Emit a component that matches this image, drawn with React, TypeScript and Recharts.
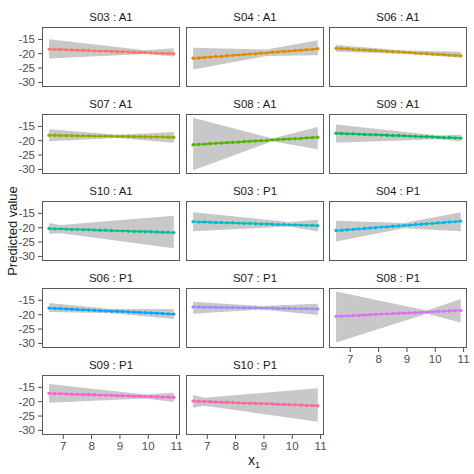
import { ComposedChart, Line, Area, XAxis, YAxis } from 'recharts'

// ─── data ───────────────────────────────────────────────────────
const X_VALUES = [6.5, 6.7, 6.9, 7.1, 7.3, 7.5, 7.7, 7.9, 8.1, 8.3, 8.5, 8.7, 8.9, 9.1, 9.3, 9.5, 9.7, 9.9, 10.1, 10.3, 10.5, 10.7, 10.9]

const PANEL_LABELS = [
  'S03 : A1', 'S04 : A1', 'S06 : A1',
  'S07 : A1', 'S08 : A1', 'S09 : A1',
  'S10 : A1', 'S03 : P1', 'S04 : P1',
  'S06 : P1', 'S07 : P1', 'S08 : P1',
  'S09 : P1', 'S10 : P1',
]

const COLORS = [
  '#F8766D', '#E38900', '#C49A00', '#99A800', '#53B400', '#00BC56', '#00C094',
  '#00BFC4', '#00B6EB', '#06A4FF', '#A58AFF', '#DF70F8', '#FB61D7', '#FF66A8',
]

const FIT_S03_A1 = [-18.4, -18.5, -18.5, -18.6, -18.7, -18.8, -18.8, -18.9, -19.0, -19.1, -19.1, -19.2, -19.3, -19.3, -19.4, -19.5, -19.6, -19.6, -19.7, -19.8, -19.9, -19.9, -20.0]
const FIT_S04_A1 = [-21.6, -21.5, -21.3, -21.2, -21.0, -20.9, -20.7, -20.6, -20.4, -20.3, -20.1, -20.0, -19.8, -19.7, -19.5, -19.4, -19.2, -19.1, -18.9, -18.8, -18.6, -18.5, -18.3]
const FIT_S06_A1 = [-18.1, -18.2, -18.3, -18.5, -18.6, -18.7, -18.8, -18.9, -19.0, -19.2, -19.3, -19.4, -19.5, -19.6, -19.8, -19.9, -20.0, -20.1, -20.2, -20.3, -20.5, -20.6, -20.7]
const FIT_S07_A1 = [-18.1, -18.1, -18.2, -18.2, -18.2, -18.3, -18.3, -18.3, -18.4, -18.4, -18.4, -18.4, -18.5, -18.5, -18.5, -18.6, -18.6, -18.6, -18.7, -18.7, -18.7, -18.8, -18.8]
const FIT_S08_A1 = [-21.4, -21.3, -21.2, -21.0, -20.9, -20.8, -20.7, -20.6, -20.5, -20.3, -20.2, -20.1, -20.0, -19.9, -19.7, -19.6, -19.5, -19.4, -19.3, -19.2, -19.0, -18.9, -18.8]
const FIT_S09_A1 = [-17.4, -17.5, -17.6, -17.6, -17.7, -17.8, -17.9, -17.9, -18.0, -18.1, -18.2, -18.2, -18.3, -18.4, -18.5, -18.6, -18.6, -18.7, -18.8, -18.9, -18.9, -19.0, -19.1]
const FIT_S10_A1 = [-20.3, -20.4, -20.4, -20.5, -20.6, -20.6, -20.7, -20.7, -20.8, -20.9, -20.9, -21.0, -21.1, -21.1, -21.2, -21.3, -21.3, -21.4, -21.4, -21.5, -21.6, -21.6, -21.7]
const FIT_S03_P1 = [-17.9, -18.0, -18.0, -18.1, -18.2, -18.2, -18.3, -18.3, -18.4, -18.5, -18.5, -18.6, -18.7, -18.7, -18.8, -18.9, -18.9, -19.0, -19.0, -19.1, -19.2, -19.2, -19.3]
const FIT_S04_P1 = [-21.0, -20.9, -20.7, -20.6, -20.4, -20.3, -20.1, -20.0, -19.8, -19.7, -19.5, -19.4, -19.2, -19.1, -18.9, -18.8, -18.6, -18.5, -18.3, -18.2, -18.0, -17.9, -17.7]
const FIT_S06_P1 = [-17.7, -17.8, -17.9, -18.0, -18.1, -18.2, -18.3, -18.4, -18.5, -18.6, -18.7, -18.8, -18.8, -18.9, -19.0, -19.1, -19.2, -19.3, -19.4, -19.5, -19.6, -19.7, -19.8]
const FIT_S07_P1 = [-17.3, -17.3, -17.4, -17.4, -17.4, -17.5, -17.5, -17.5, -17.6, -17.6, -17.6, -17.6, -17.7, -17.7, -17.7, -17.8, -17.8, -17.8, -17.9, -17.9, -17.9, -18.0, -18.0]
const FIT_S08_P1 = [-20.6, -20.5, -20.4, -20.3, -20.2, -20.1, -20.0, -19.9, -19.8, -19.7, -19.6, -19.5, -19.5, -19.4, -19.3, -19.2, -19.1, -19.0, -18.9, -18.8, -18.7, -18.6, -18.5]
const FIT_S09_P1 = [-17.1, -17.2, -17.2, -17.3, -17.4, -17.4, -17.5, -17.5, -17.6, -17.7, -17.7, -17.8, -17.9, -17.9, -18.0, -18.1, -18.1, -18.2, -18.2, -18.3, -18.4, -18.4, -18.5]
const FIT_S10_P1 = [-19.8, -19.9, -19.9, -20.0, -20.1, -20.2, -20.2, -20.3, -20.4, -20.5, -20.5, -20.6, -20.7, -20.7, -20.8, -20.9, -21.0, -21.0, -21.1, -21.2, -21.3, -21.3, -21.4]

// confidence band: [x, lower, upper] at the ends and at the narrowest point
const BAND_S03_A1 = [[6.5, -21.7, -15.0], [9.9, -20.1, -18.8], [10.9, -21.0, -18.1]]
const BAND_S04_A1 = [[6.5, -25.5, -17.9], [9.1, -20.8, -18.5], [10.9, -20.5, -15.3]]
const BAND_S06_A1 = [[6.5, -19.3, -17.0], [8.9, -20.0, -18.9], [10.9, -21.4, -19.3]]
const BAND_S07_A1 = [[6.5, -20.2, -16.0], [8.9, -19.1, -17.9], [10.9, -20.7, -17.0]]
const BAND_S08_A1 = [[6.5, -30.3, -12.0], [9.3, -20.2, -19.2], [10.9, -23.0, -15.2]]
const BAND_S09_A1 = [[6.5, -20.7, -14.4], [10.1, -19.5, -18.2], [10.9, -20.2, -17.9]]
const BAND_S10_A1 = [[6.5, -22.2, -18.4], [6.9, -21.9, -19.1], [10.9, -27.2, -15.8]]
const BAND_S03_P1 = [[6.5, -21.2, -14.65], [9.9, -19.6, -18.0], [10.9, -21.3, -17.2]]
const BAND_S04_P1 = [[6.5, -24.8, -17.6], [8.9, -20.2, -18.4], [10.9, -21.2, -14.65]]
const BAND_S06_P1 = [[6.5, -19.1, -15.9], [8.7, -19.5, -18.0], [10.9, -21.5, -18.0]]
const BAND_S07_P1 = [[6.5, -19.65, -15.5], [8.9, -18.2, -17.0], [10.9, -20.1, -16.2]]
const BAND_S08_P1 = [[6.5, -29.65, -11.9], [9.7, -19.7, -18.5], [10.9, -22.7, -14.5]]
const BAND_S09_P1 = [[6.5, -20.35, -13.8], [9.9, -18.9, -17.5], [10.9, -20.1, -16.9]]
const BAND_S10_P1 = [[6.5, -22.1, -17.7], [6.9, -21.4, -18.6], [10.9, -27.0, -15.35]]

const FITS = [
  FIT_S03_A1, FIT_S04_A1, FIT_S06_A1, FIT_S07_A1, FIT_S08_A1, FIT_S09_A1, FIT_S10_A1,
  FIT_S03_P1, FIT_S04_P1, FIT_S06_P1, FIT_S07_P1, FIT_S08_P1, FIT_S09_P1, FIT_S10_P1,
]
const BANDS = [
  BAND_S03_A1, BAND_S04_A1, BAND_S06_A1, BAND_S07_A1, BAND_S08_A1, BAND_S09_A1, BAND_S10_A1,
  BAND_S03_P1, BAND_S04_P1, BAND_S06_P1, BAND_S07_P1, BAND_S08_P1, BAND_S09_P1, BAND_S10_P1,
]

const Y_TICKS = [-30, -25, -20, -15]
const X_TICKS = [7, 8, 9, 10, 11]

// ─── layout ─────────────────────────────────────────────────────
const COL_LEFT = [42, 186, 329]
const ROW_TOP = [27, 114, 201, 288, 375]
const PANEL_W = 138
const PANEL_H = 60
const Y_AXIS_W = 42
const X_AXIS_H = 22
const RIGHT_PAD = 7
const FONT = '"Liberation Sans", Arial, sans-serif'
const AXIS_GREY = '#4d4d4d'

function buildRows(fit: number[], band: number[][]) {
  return X_VALUES.map((x, i) => {
    const b = band.find((p) => p[0] === x)
    return { x, y: fit[i], lo: b ? b[1] : null, hi: b ? b[2] : null }
  })
}

function Panel({ index }: { index: number }) {
  const col = index % 3
  const row = Math.floor(index / 3)
  const showY = col === 0
  const showX = row === 4 || (row === 3 && col === 2)
  const rows = buildRows(FITS[index], BANDS[index])
  const color = COLORS[index]
  const left = COL_LEFT[col]
  const top = ROW_TOP[row]

  return (
    <>
      <div
        style={{
          position: 'absolute', left, top: top - 17, width: PANEL_W,
          textAlign: 'center', fontSize: 11.5, color: '#1a1a1a', lineHeight: '14px',
        }}
      >
        {PANEL_LABELS[index]}
      </div>
      <div style={{ position: 'absolute', left: left - Y_AXIS_W, top }}>
        <ComposedChart
          width={Y_AXIS_W + PANEL_W + RIGHT_PAD}
          height={PANEL_H + X_AXIS_H}
          data={rows}
          margin={{ top: 0, right: RIGHT_PAD, bottom: 0, left: 0 }}
        >
          <XAxis
            dataKey="x"
            type="number"
            domain={[6.25, 11.12]}
            allowDataOverflow
            ticks={X_TICKS}
            interval={0}
            height={X_AXIS_H}
            axisLine={false}
            tickLine={showX ? { stroke: AXIS_GREY } : false}
            tick={showX ? { fontSize: 11.5, fill: AXIS_GREY, fontFamily: FONT } : false}
            tickSize={4}
            tickMargin={3}
          />
          <YAxis
            type="number"
            domain={[-31.6, -10.7]}
            allowDataOverflow
            ticks={Y_TICKS}
            interval={0}
            width={Y_AXIS_W}
            axisLine={false}
            tickLine={showY ? { stroke: AXIS_GREY } : false}
            tick={showY ? { fontSize: 11.5, fill: AXIS_GREY, fontFamily: FONT } : false}
            tickSize={4}
            tickMargin={3}
          />
          <Area
            dataKey={(d: any) => [d.lo, d.hi]}
            type="linear"
            connectNulls
            stroke="none"
            fill="#c8c8c8"
            fillOpacity={1}
            isAnimationActive={false}
            dot={false}
            activeDot={false}
          />
          <Line
            dataKey="y"
            type="linear"
            stroke={color}
            strokeWidth={1.8}
            dot={{ r: 1.7, fill: color, stroke: color, strokeWidth: 0 }}
            activeDot={false}
            isAnimationActive={false}
          />
        </ComposedChart>
      </div>
      <div
        style={{
          position: 'absolute', left, top, width: PANEL_W, height: PANEL_H,
          border: '1px solid #5a5a5a', boxSizing: 'border-box', pointerEvents: 'none',
        }}
      />
    </>
  )
}

export default function App() {
  return (
    <div style={{ position: 'relative', width: 474, height: 474, background: '#fff', fontFamily: FONT, overflow: 'hidden' }}>
      <style>{'body { margin: 0; }'}</style>
      {PANEL_LABELS.map((_, i) => (
        <Panel key={i} index={i} />
      ))}
      <div
        style={{
          position: 'absolute', left: 12, top: 231, fontSize: 13, color: '#1a1a1a',
          transform: 'translate(-50%, -50%) rotate(-90deg)', whiteSpace: 'nowrap',
        }}
      >
        Predicted value
      </div>
      <div
        style={{
          position: 'absolute', left: 254, top: 461, fontSize: 14, color: '#1a1a1a',
          transform: 'translate(-50%, -50%)', whiteSpace: 'nowrap',
        }}
      >
        x<sub style={{ fontSize: 9 }}>1</sub>
      </div>
    </div>
  )
}
